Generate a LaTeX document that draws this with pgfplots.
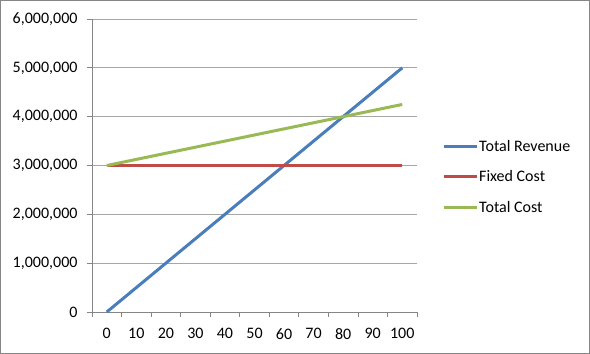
\documentclass[border=0pt]{standalone}
\usepackage{pgfplots}
\pgfplotsset{compat=1.18}
\usepackage{fontspec}
\setmainfont{Carlito}
\definecolor{rev}{HTML}{4A7EBB}
\definecolor{fix}{HTML}{BE4B48}
\definecolor{tot}{HTML}{98B954}
\definecolor{gridc}{HTML}{A6A6A6}
\definecolor{axc}{HTML}{868686}
\begin{document}
\begin{tikzpicture}[x=1pt,y=1pt]
\useasboundingbox (0,0) rectangle (590,354);
\draw[color=axc,line width=1pt] (0.5,0.5) rectangle (589.5,353.5);
\begin{axis}[
  at={(92pt,42pt)}, anchor=south west,
  scale only axis, width=325pt, height=293pt,
  xmin=-0.5, xmax=10.5, ymin=0, ymax=6000000,
  scaled y ticks=false,
  axis lines=left, axis line style={-, draw=axc, line width=0.8pt},
  xtick={0,...,10},
  xticklabels={0,10,20,30,40,50,60,70,80,90,100},
  minor xtick={-0.5,0.5,...,10.5},
  ytick={0,1000000,2000000,3000000,4000000,5000000,6000000},
  yticklabels={0,{1,000,000},{2,000,000},{3,000,000},{4,000,000},{5,000,000},{6,000,000}},
  tick align=outside,
  major x tick style={draw=none},
  minor x tick style={draw=axc, line width=0.8pt},
  major y tick style={draw=axc, line width=0.8pt},
  major tick length=5pt, minor tick length=5pt,
  ymajorgrids, grid style={draw=gridc, line width=0.8pt},
  tick label style={font=\fontsize{16}{19}\selectfont, text=black},
  /pgf/number format/assume math mode=true,
  xticklabel style={yshift=-8pt},
  yticklabel style={xshift=-6pt},
  legend style={at={(1.077,0.461)}, anchor=west, draw=none, fill=none,
    font=\fontsize{16}{19}\selectfont, row sep=16pt, inner sep=0pt,
    nodes={inner sep=1pt}},
  legend cell align=left,
  legend image code/.code={\draw[#1,line width=3pt] (0pt,0pt) -- (33pt,0pt);},
  clip=false,
]
\addplot[color=rev, line width=3pt] coordinates {
(0,0) (1,500000) (2,1000000) (3,1500000) (4,2000000) (5,2500000)
(6,3000000) (7,3500000) (8,4000000) (9,4500000) (10,5000000)};
\addlegendentry{Total Revenue}
\addplot[color=fix, line width=3pt] coordinates {
(0,3000000) (1,3000000) (2,3000000) (3,3000000) (4,3000000) (5,3000000)
(6,3000000) (7,3000000) (8,3000000) (9,3000000) (10,3000000)};
\addlegendentry{Fixed Cost}
\addplot[color=tot, line width=3pt] coordinates {
(0,3000000) (1,3125000) (2,3250000) (3,3375000) (4,3500000) (5,3625000)
(6,3750000) (7,3875000) (8,4000000) (9,4125000) (10,4250000)};
\addlegendentry{Total Cost}
\end{axis}
\end{tikzpicture}
\end{document}
